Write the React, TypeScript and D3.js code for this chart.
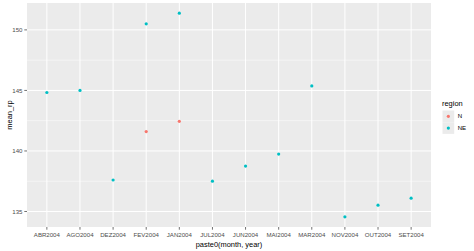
import React from "react";
import * as d3 from "d3";

const categories = ["ABR2004","AGO2004","DEZ2004","FEV2004","JAN2004","JUL2004","JUN2004","MAI2004","MAR2004","NOV2004","OUT2004","SET2004"];
const regions = ["N", "NE"];
const colors = ["#F8766D", "#00BFC4"];
const nCats = ["FEV2004", "JAN2004"];
const nValues = [141.6, 142.45];
const neCats = ["ABR2004","AGO2004","DEZ2004","FEV2004","JAN2004","JUL2004","JUN2004","MAI2004","MAR2004","NOV2004","OUT2004","SET2004"];
const neValues = [144.83, 145.0, 137.6, 150.5, 151.38, 137.5, 138.75, 139.74, 145.37, 134.56, 135.52, 136.1];
const yTicks = [135, 140, 145, 150];
const yMinor = [137.5, 142.5, 147.5];

const W = 474, H = 251;
const panel = { left: 27, right: 431, top: 3, bottom: 227 };
const FONT = "'Liberation Sans', Arial, sans-serif";

export default function App() {
  const points = [
    ...nCats.map((c, i) => ({ cat: c, v: nValues[i], r: 0 })),
    ...neCats.map((c, i) => ({ cat: c, v: neValues[i], r: 1 })),
  ];
  const all = points.map(p => p.v);
  const mn = d3.min(all)!, mx = d3.max(all)!;
  const pad = (mx - mn) * 0.05;
  const y = d3.scaleLinear().domain([mn - pad, mx + pad]).range([panel.bottom, panel.top]);
  const step = (panel.right - panel.left) / (categories.length - 1 + 1.2);
  const x = d3.scalePoint<string>().domain(categories).range([panel.left + 0.6 * step, panel.right - 0.6 * step]);

  const tickCol = "#333333";
  const txtCol = "#4D4D4D";
  return (
    <svg width={W} height={H} style={{ position: "fixed", left: 0, top: 0 }} fontFamily={FONT}>
      <rect x={0} y={0} width={W} height={H} fill="#FFFFFF" />
      <rect x={panel.left} y={panel.top} width={panel.right - panel.left} height={panel.bottom - panel.top} fill="#EBEBEB" />
      {yMinor.map(t => (
        <line key={"m" + t} x1={panel.left} x2={panel.right} y1={y(t)} y2={y(t)} stroke="#FFFFFF" strokeWidth={0.5} />
      ))}
      {yTicks.map(t => (
        <line key={"g" + t} x1={panel.left} x2={panel.right} y1={y(t)} y2={y(t)} stroke="#FFFFFF" strokeWidth={1} />
      ))}
      {categories.map(c => (
        <line key={"gx" + c} x1={x(c)} x2={x(c)} y1={panel.top} y2={panel.bottom} stroke="#FFFFFF" strokeWidth={1} />
      ))}
      {points.map((p, i) => (
        <circle key={i} cx={x(p.cat)} cy={y(p.v)} r={1.6} fill={colors[p.r]} />
      ))}
      {yTicks.map(t => (
        <g key={"yt" + t}>
          <line x1={panel.left - 2.7} x2={panel.left} y1={y(t)} y2={y(t)} stroke={tickCol} strokeWidth={0.7} />
          <text x={panel.left - 4.5} y={y(t)} dy="0.35em" textAnchor="end" fontSize={6.1} fill={txtCol}>{t}</text>
        </g>
      ))}
      {categories.map(c => (
        <g key={"xt" + c}>
          <line x1={x(c)} x2={x(c)} y1={panel.bottom} y2={panel.bottom + 2.7} stroke={tickCol} strokeWidth={0.7} />
          <text x={x(c)} y={panel.bottom + 10.2} textAnchor="middle" fontSize={6.1} fill={txtCol}>{c}</text>
        </g>
      ))}
      <text x={(panel.left + panel.right) / 2} y={246.5} textAnchor="middle" fontSize={7.45} fill="#000">paste0(month, year)</text>
      <text transform={`translate(12,${(panel.top + panel.bottom) / 2}) rotate(-90)`} textAnchor="middle" fontSize={7.45} fill="#000">mean_rp</text>
      <text x={442} y={105.8} fontSize={7.45} fill="#000">region</text>
      {regions.map((r, i) => (
        <g key={"lg" + r}>
          <rect x={442.5} y={110.5 + i * 11.7} width={11.7} height={11.7} fill="#EBEBEB" />
          <circle cx={448.35} cy={116.35 + i * 11.7} r={1.6} fill={colors[i]} />
          <text x={457.7} y={116.35 + i * 11.7} dy="0.35em" fontSize={6.1} fill="#000">{r}</text>
        </g>
      ))}
    </svg>
  );
}
